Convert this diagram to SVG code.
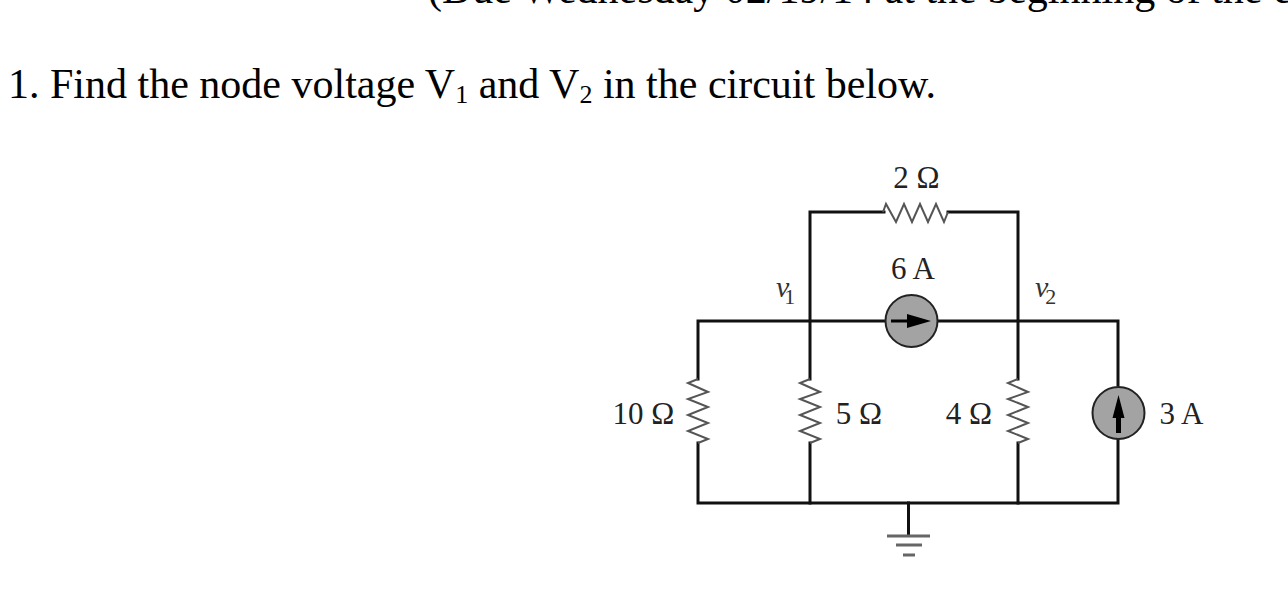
<svg xmlns="http://www.w3.org/2000/svg" width="1288" height="615" viewBox="0 0 1288 615">
<style>
text{font-family:"Liberation Serif","Times New Roman",serif;fill:#000}
.h{font-size:42px}
.s{font-size:26px}
.l{font-size:31px;fill:#222}
.v{font-size:30px;font-style:italic;fill:#333}
.vs{font-size:22px;font-style:normal}
.w{fill:none;stroke:#111;stroke-width:3;stroke-linecap:square;stroke-linejoin:miter}
.r{fill:none;stroke:#555;stroke-width:2;stroke-linejoin:miter}
.src{fill:#a3a3a3;stroke:#222;stroke-width:2}
.g{stroke:#666;stroke-width:3;fill:none}
</style>
<rect width="1288" height="615" fill="#fff"/>
<text class="h" x="428" y="3" xml:space="preserve">(Due Wednesday 02/19/14 at the beginning of the class)</text>
<text class="h" x="8" y="98">1. Find the node voltage V<tspan class="s" dy="5">1</tspan><tspan dy="-5"> and V</tspan><tspan class="s" dy="5">2</tspan><tspan dy="-5"> in the circuit below.</tspan></text>
<g id="connectors">
<path class="w" d="M698 379V321H885M938 321H1118V385M1118 439V503H698V443"/>
<path class="w" d="M810 379V212H884M948 212H1018V379"/>
<path class="w" d="M810 443V503M1018 443V503"/>
<path class="w" d="M908.500 503V535"/>
</g>
<g id="r-2ohm"><path class="r" d="M883 212L886 204L896 222L904 204L912 222L920 204L928 222L936 204L944 222L948 212"/><text class="l" x="916.500" y="188" text-anchor="middle">2 Ω</text></g>
<g id="r-10ohm"><path class="r" d="M698 379L688 383L708 392L688 399L708 407L688 415L708 423L688 431L708 439L698 443"/><text class="l" x="643.500" y="424" text-anchor="middle">10 Ω</text></g>
<g id="r-5ohm"><path class="r" d="M810 379L800 383L820 392L800 399L820 407L800 415L820 423L800 431L820 439L810 443"/><text class="l" x="859" y="424" text-anchor="middle">5 Ω</text></g>
<g id="r-4ohm"><path class="r" d="M1018 379L1008 383L1028 392L1008 399L1028 407L1008 415L1028 423L1008 431L1028 439L1018 443"/><text class="l" x="969" y="424" text-anchor="middle">4 Ω</text></g>
<g id="src-6a"><circle class="src" cx="911.500" cy="321" r="26"/><path d="M891 319.500H907V314L931 321L907 328V322.500H891Z" fill="#000"/><text class="l" x="913" y="279" text-anchor="middle">6 A</text></g>
<g id="src-3a"><circle class="src" cx="1118.500" cy="413" r="26"/><path d="M1116 433V418H1112.500L1118.500 395L1124.500 418H1121V433Z" fill="#000"/><text class="l" x="1181.500" y="424" text-anchor="middle">3 A</text></g>
<g id="node-v1"><text class="v" x="776" y="297">v<tspan class="vs" dx="-5" dy="7">1</tspan></text></g>
<g id="node-v2"><text class="v" x="1035" y="297">v<tspan class="vs" dx="-3" dy="7">2</tspan></text></g>
<g id="ground"><path class="g" d="M887 536H930M896 545H922M903 555H915"/></g>
</svg>
